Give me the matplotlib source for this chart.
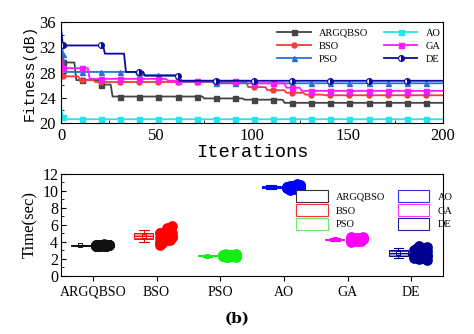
import numpy as np
import matplotlib
matplotlib.use('Agg')
from matplotlib import pyplot as plt
from matplotlib.patches import Patch

# Convergence curves: step levels and how many iterations each level lasts
argq_levels = [30.0, 29.6, 26.8, 26.1, 24.2, 23.9, 23.7, 23.2]
argq_len = [1, 7, 13, 6, 48, 21, 21, 84]
bso_levels = [35.0, 27.4, 26.8, 26.5, 25.7, 25.2, 24.8, 24.5, 24.4]
bso_len = [1, 9, 8, 80, 10, 10, 10, 10, 63]
pso_levels = [35.2, 31.0, 28.1, 27.6, 26.6, 26.3]
pso_len = [1, 1, 38, 21, 19, 121]
ao_levels = [22.6, 21.0, 20.6]
ao_len = [1, 1, 199]
ga_levels = [30.2, 28.7, 27.0, 26.7, 26.3, 25.6, 25.1]
ga_len = [1, 14, 41, 44, 18, 8, 75]
de_levels = [34.8, 32.3, 31.0, 28.1, 27.5, 26.7]
de_len = [1, 22, 11, 10, 18, 139]

# Run times (sec) per algorithm
names = ['ARGQBSO', 'BSO', 'PSO', 'AO', 'GA', 'DE']
t_argq = [3.52, 3.61, 3.58, 3.66, 3.55, 3.63, 3.70, 3.48, 3.59, 3.62, 3.57, 3.64, 3.60, 3.53, 3.68,
          3.56, 3.61, 3.65, 3.50, 3.58, 3.62, 3.71, 3.54, 3.60, 3.57, 3.63, 3.59, 3.67, 3.55, 3.61]
t_bso = [4.0, 4.4, 4.9, 5.3, 4.2, 4.6, 5.1, 4.1, 4.8, 5.6, 4.3, 5.0, 3.6, 4.7, 5.2,
         4.2, 4.9, 5.9, 4.5, 3.9, 4.8, 5.4, 4.3, 4.6, 5.0, 4.1, 5.1, 4.4, 4.9, 4.6]
t_pso = [2.35, 2.42, 2.28, 2.50, 2.38, 2.45, 2.31, 2.55, 2.40, 2.36, 2.47, 2.25, 2.43, 2.39, 2.52,
         2.33, 2.44, 2.37, 2.48, 2.30, 2.41, 2.46, 2.34, 2.58, 2.40, 2.29, 2.44, 2.38, 2.49, 2.36]
t_ao = [10.3, 10.5, 10.6, 10.2, 10.4, 10.7, 10.5, 10.3, 10.6, 10.4, 10.8, 10.2, 10.5, 10.4, 10.6,
        10.3, 10.5, 10.7, 10.4, 10.1, 10.5, 10.6, 10.3, 10.4, 10.5, 10.6, 10.4, 10.3, 10.7, 10.5]
t_ga = [4.2, 4.4, 4.3, 4.5, 4.1, 4.35, 4.6, 4.25, 4.4, 4.15, 4.3, 4.5, 4.05, 4.35, 4.45,
        4.2, 4.3, 4.55, 4.25, 4.4, 4.1, 4.35, 4.3, 4.5, 4.2, 4.4, 4.3, 4.15, 4.45, 4.3]
t_de = [2.3, 2.9, 3.2, 2.1, 2.6, 3.4, 2.4, 3.0, 2.0, 2.8, 3.1, 2.3, 2.6, 3.3, 2.2,
        2.9, 2.5, 1.9, 3.0, 2.7, 3.5, 2.6, 2.3, 2.9, 2.1, 3.1, 2.4, 2.8, 3.0, 2.5]

serif = 'Liberation Serif'
mono = 'Liberation Mono'
plt.rcParams['font.family'] = serif
plt.rcParams['hatch.linewidth'] = 0.6

fig = plt.figure(figsize=(4.74, 3.34), dpi=100)

# ---------- top: convergence ----------
ax1 = fig.add_axes([0.1287, 0.6317, 0.806, 0.302])
it = np.arange(201)
curves = [
    ('ARGQBSO', argq_levels, argq_len, '#444444', 's', (1, 10)),
    ('BSO', bso_levels, bso_len, '#f03c3c', 'o', (1, 10)),
    ('PSO', pso_levels, pso_len, '#2a6fd8', '^', (1, 10)),
    ('AO', ao_levels, ao_len, '#22e6ee', 's', (1, 10)),
    ('GA', ga_levels, ga_len, '#ff18ff', 's', (1, 10)),
    ('DE', de_levels, de_len, '#0a0a9a', 'o', (1, 20)),
]
lines = {}
for name, lv, ln, c, m, me in curves:
    y = np.repeat(lv, ln)
    if name == 'DE':
        l, = ax1.plot(it, y, color=c, lw=1.3, marker=m, markersize=4.2, markevery=me,
                      fillstyle='right', markerfacecoloralt='white', markeredgecolor=c,
                      markeredgewidth=0.8, label=name)
    else:
        l, = ax1.plot(it, y, color=c, lw=1.3, marker=m, markersize=3.6, markevery=me, label=name)
    lines[name] = l
ax1.set_xlim(0, 200)
ax1.set_ylim(20, 36)
ax1.set_xticks([0, 50, 100, 150, 200])
ax1.set_xticks([25, 75, 125, 175], minor=True)
ax1.set_yticks([20, 24, 28, 32, 36])
ax1.set_yticks([22, 26, 30, 34], minor=True)
ax1.tick_params(which='both', direction='in', labelsize=12)
ax1.tick_params(which='minor', length=2)
ax1.set_xlabel('Iterations', fontfamily=mono, fontsize=13.5, labelpad=0)
ax1.set_ylabel('Fitness(dB)', fontfamily=mono, fontsize=10.5, labelpad=2)
hl = [lines[n] for n in names]
ax1.legend(hl, names, ncol=2, frameon=False, fontsize=7.5,
           loc='upper left', bbox_to_anchor=(0.55, 1.0), handlelength=3.2,
           labelspacing=0.35, columnspacing=1.5, borderaxespad=0.2)

# ---------- bottom: run time ----------
ax2 = fig.add_axes([0.1287, 0.1737, 0.806, 0.3054])
times = [t_argq, t_bso, t_pso, t_ao, t_ga, t_de]
bcol = ['#111111', '#ff0000', '#11ee11', '#0000ff', '#ff00ff', '#000090']
ecol = ['#333333', '#ee3333', '#66ee66', '#3333ee', '#ff33ff', '#222299']
pos = np.arange(1, 7)
jit = np.tile([-0.1, -0.06, -0.02, 0.02, 0.06, 0.1], 5)
for i, (t, c) in enumerate(zip(times, bcol)):
    plt.rcParams['hatch.color'] = c
    ax2.boxplot([t], positions=[pos[i] - 0.2], widths=0.3, patch_artist=True,
                whis=(5, 95), showfliers=False, showmeans=True, manage_ticks=False,
                boxprops=dict(facecolor='white', edgecolor=c, lw=0.7, hatch='-----'),
                medianprops=dict(color=c, lw=0.7),
                whiskerprops=dict(color=c, lw=0.8),
                capprops=dict(color=c, lw=0.8),
                meanprops=dict(marker='s', markersize=3, markerfacecolor='none',
                               markeredgecolor=c, markeredgewidth=0.7))
    ax2.scatter(pos[i] + 0.15 + jit, t, s=45, color=c, edgecolors=c, zorder=3)
ax2.set_xlim(0.5, 6.5)
ax2.set_ylim(0, 12)
ax2.set_xticks(pos)
ax2.set_xticklabels(names)
ax2.set_yticks(range(0, 13, 2))
ax2.set_yticks(range(1, 12, 2), minor=True)
ax2.tick_params(axis='x', direction='out', labelsize=10)
ax2.tick_params(axis='y', which='both', direction='in', labelsize=11.5, pad=2)
ax2.tick_params(axis='y', which='minor', length=2)
ax2.set_ylabel('Time(sec)', fontsize=12, labelpad=3)
handles = [Patch(facecolor='white', edgecolor=c, lw=0.8, label=n) for n, c in zip(names, ecol)]
ax2.legend(handles=handles, ncol=2, frameon=False, fontsize=7.5, loc='upper left',
           bbox_to_anchor=(0.6, 0.9), handlelength=3.0, handleheight=1.4,
           labelspacing=0.15, columnspacing=1.2, borderaxespad=0.2)

fig.text(0.5, 0.045, '(b)', ha='center', va='center', fontsize=11, fontweight='bold',
         fontfamily='DejaVu Serif')

fig.savefig('out.png', dpi=100)
